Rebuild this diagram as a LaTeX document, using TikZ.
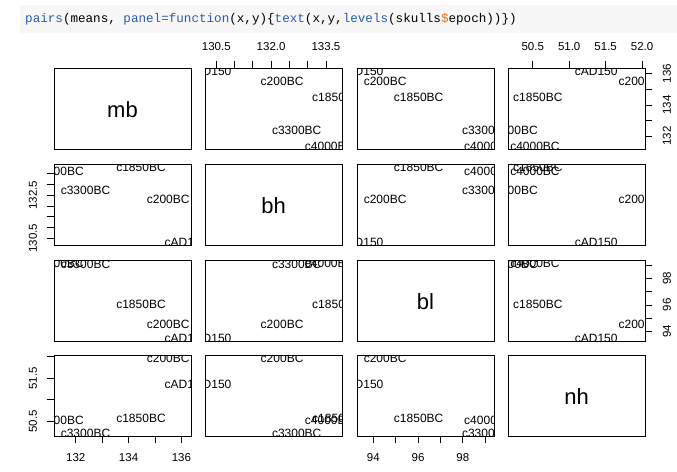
\documentclass[tikz,border=0pt]{standalone}
\usepackage{fontspec}
\setmainfont{Liberation Sans}
\newfontfamily\codefont{Liberation Mono}
\definecolor{codebg}{HTML}{F7F7F7}
\definecolor{kw}{HTML}{2A5DB0}
\definecolor{dollar}{HTML}{E07020}
\newcommand\getlo[1]{\ifcase#1\or\def\lo{131.37}\def\hi{136.17}\or\def\lo{130.33}\def\hi{133.80}\or\def\lo{93.50}\def\hi{99.17}\or\def\lo{50.23}\def\hi{51.97}\fi}
\newcommand\getfr[3]{\getlo{#2}\pgfmathsetmacro#1{(#3-\lo+0.04*(\hi-\lo))/(1.08*(\hi-\lo))}}
\newcommand\getdat[3]{\ifcase#2\or\def\dd{131.37,132.37,134.47,135.50,136.17}\or\def\dd{133.60,132.70,133.80,132.30,130.33}\or\def\dd{99.17,99.07,96.03,94.53,93.50}\or\def\dd{50.53,50.23,50.57,51.97,51.37}\fi\pgfmathsetmacro#1{{\dd}[#3]}}
\tikzset{pt/.style={inner sep=0pt,font=\fontsize{12}{12}\selectfont},
  diag/.style={inner sep=0pt,font=\fontsize{22}{22}\selectfont},
  axl/.style={inner sep=0pt,font=\fontsize{11.5}{11.5}\selectfont},
  panel/.style={draw,line width=0.8pt},
  tick/.style={line width=0.8pt}}
\begin{document}
\begin{tikzpicture}[x=1pt,y=-1pt]
\useasboundingbox (0,0) rectangle (677,471);
\fill[codebg] (20,5) rectangle (677,33);
\node[anchor=base west,inner sep=0pt,font=\codefont\fontsize{12.6}{13}\selectfont] (code) at (25,23)
 {\textcolor{kw}{pairs}(means, \textcolor{kw}{panel=function}(x,y)\{\textcolor{kw}{text}(x,y,\textcolor{kw}{levels}(skulls\textcolor{dollar}{\$}epoch))\})};
\foreach \r/\T in {1/68,2/164,3/260,4/355}{
 \foreach \c/\L in {1/54,2/205,3/357,4/508}{
  \draw[panel] (\L,\T) rectangle ++(137,81);
  \ifnum\r=\c
   \node[diag] (d\r) at (\L+68.5,\T+42) {\ifcase\r\or mb\or bh\or bl\or nh\fi};
  \else
   \begin{scope}
    \clip (\L,\T) rectangle ++(137,81);
    \foreach \k/\n in {0/c4000BC,1/c3300BC,2/c1850BC,3/c200BC,4/cAD150}{
     \getdat{\xv}{\c}{\k}\getfr{\fx}{\c}{\xv}
     \getdat{\yv}{\r}{\k}\getfr{\fy}{\r}{\yv}
     \node[pt] (p\r\c\k) at (\L+\fx*137,\T+81-\fy*81) {\n};
    }
   \end{scope}
  \fi
 }
}
\foreach \v in {130.5,131,...,133.5}{\getfr{\f}{2}{\v}\draw[tick] (205+\f*137,68) -- ++(0,-7);}
\foreach \v/\s in {130.5/130.5,132.0/132.0,133.5/133.5}{\getfr{\f}{2}{\v}\node[axl] (t2\s) at (205+\f*137,47) {\s};}
\foreach \v/\s in {50.5/50.5,51/51.0,51.5/51.5,52/52.0}{\getfr{\f}{4}{\v}\draw[tick] (508+\f*137,68) -- ++(0,-7);\node[axl] (t4\s) at (508+\f*137,47) {\s};}
\foreach \v in {132,...,136}{\getfr{\f}{1}{\v}\draw[tick] (645,149-\f*81) -- ++(7,0);}
\foreach \v in {132,134,136}{\getfr{\f}{1}{\v}\node[axl,rotate=90] (r1\v) at (667,149-\f*81) {\v};}
\foreach \v in {94,...,99}{\getfr{\f}{3}{\v}\draw[tick] (645,341-\f*81) -- ++(7,0);}
\foreach \v in {94,96,98}{\getfr{\f}{3}{\v}\node[axl,rotate=90] (r3\v) at (667,341-\f*81) {\v};}
\foreach \v in {130.5,131,...,133.5}{\getfr{\f}{2}{\v}\draw[tick] (54,245-\f*81) -- ++(-7,0);}
\foreach \v in {130.5,132.5}{\getfr{\f}{2}{\v}\node[axl,rotate=90] (l2\v) at (33,245-\f*81) {\v};}
\foreach \v in {50.5,51,51.5,52}{\getfr{\f}{4}{\v}\draw[tick] (54,436-\f*81) -- ++(-7,0);}
\foreach \v in {50.5,51.5}{\getfr{\f}{4}{\v}\node[axl,rotate=90] (l4\v) at (33,436-\f*81) {\v};}
\foreach \v in {132,...,136}{\getfr{\f}{1}{\v}\draw[tick] (54+\f*137,436) -- ++(0,7);}
\foreach \v in {132,134,136}{\getfr{\f}{1}{\v}\node[axl] (b1\v) at (54+\f*137,458) {\v};}
\foreach \v in {94,...,99}{\getfr{\f}{3}{\v}\draw[tick] (357+\f*137,436) -- ++(0,7);}
\foreach \v in {94,96,98}{\getfr{\f}{3}{\v}\node[axl] (b3\v) at (357+\f*137,458) {\v};}
\end{tikzpicture}
\end{document}
